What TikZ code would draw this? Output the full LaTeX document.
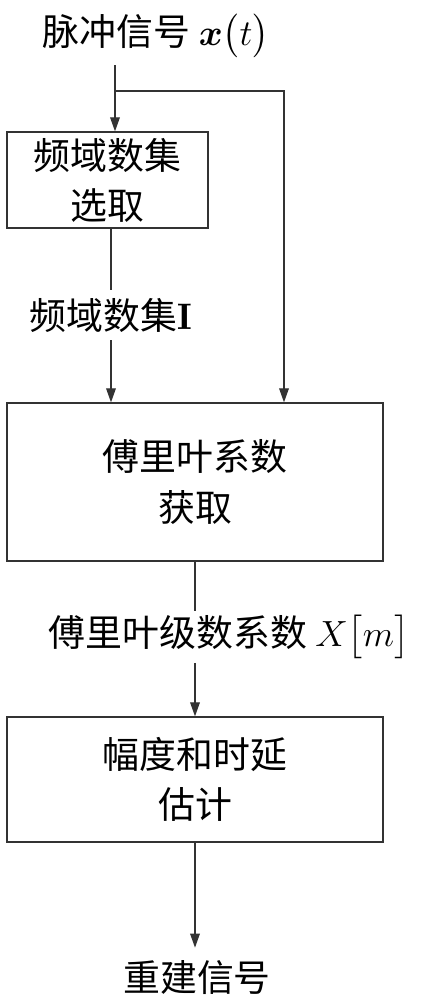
\documentclass[tikz,border=0pt]{standalone}
\usepackage{amsmath}
\usepackage{fontspec}
\newfontfamily\cjk{Noto Sans CJK SC}
\usetikzlibrary{arrows.meta,calc}
\tikzset{
  blk/.style={rectangle,draw=black!80,line width=0.7pt,align=center,inner sep=0pt},
  lbl/.style={inner sep=0pt,minimum height=1cm},
  arr/.style={draw=black!80,line width=0.7pt,-{Triangle[length=8pt,width=5.5pt]}},
  ln/.style={draw=black!80,line width=0.7pt}
}
\begin{document}
\begin{tikzpicture}[font=\cjk\fontsize{21}{28.5}\selectfont]
        \useasboundingbox (0,0) rectangle (8.44,-20);
        \node[inner sep=0pt] (src) at (3.12,-0.72) {脉冲信号 $\boldsymbol{x}\bigl(t\bigr)$};
        \coordinate(st)at(2.30,-1.30);\coordinate(sp)at(2.30,-1.82);
        \node[blk,minimum width=4.02cm,minimum height=1.92cm] (sel) at (2.15,-3.60) {频域数集\\选取};
        \node[lbl] (lI) at (2.22,-6.30) {频域数集$\mathbf{I}$};
        \node[blk,minimum width=7.52cm,minimum height=3.16cm] (fc) at (3.90,-9.64) {傅里叶系数\\获取};
        \node[lbl,minimum height=1.02cm] (lX) at (4.58,-12.74) {傅里叶级数系数 $X\bigl[m\bigr]$};
        \node[blk,minimum width=7.52cm,minimum height=2.50cm] (est) at (3.90,-15.59) {幅度和时延\\估计};
        \node[lbl,minimum height=1.2cm] (out) at (3.94,-19.56) {重建信号};
        \draw [arr] (st) -- (sel.north -| st);
        \draw [arr] (sp) -| ([xshift=1.78cm]fc.north);
        \draw [ln] (sel.south -| lI) -- (lI.north);
        \draw [arr] (lI.south) -- (fc.north -| lI);
        \draw [ln] (fc.south) -- (fc.south |- lX.north);
        \draw [arr] (fc.south |- lX.south) -- (est.north);
        \draw [arr] (est.south) -- (est.south |- out.north);
        \end{tikzpicture}
\end{document}
